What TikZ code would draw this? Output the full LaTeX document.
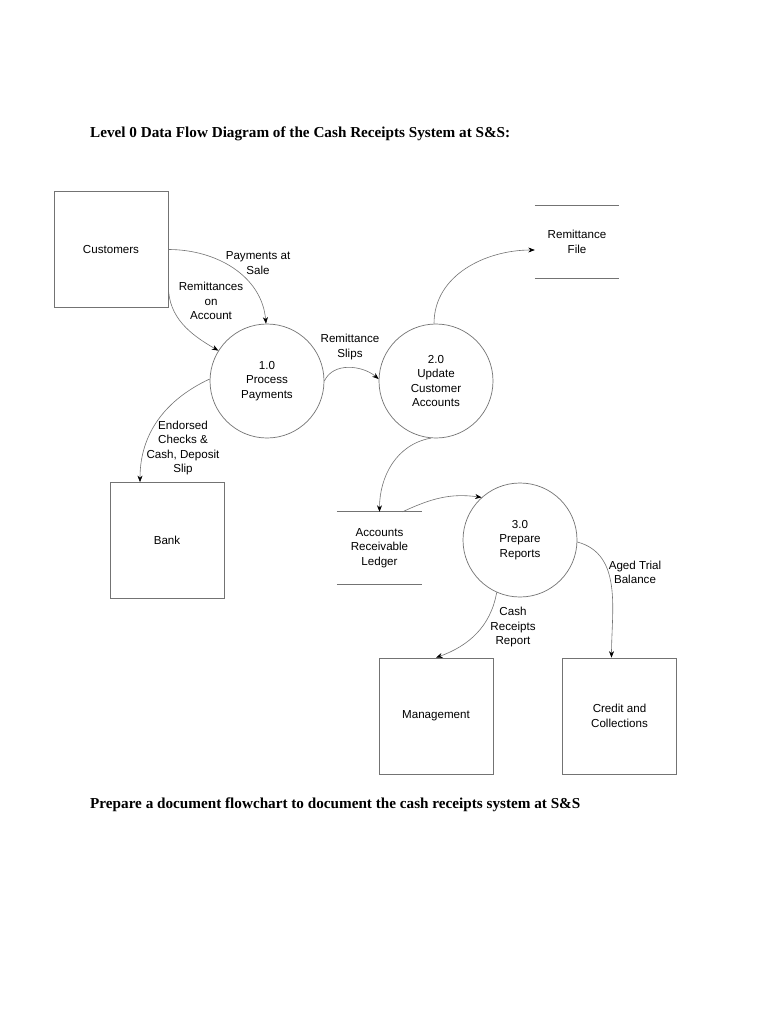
\documentclass[tikz,border=0pt]{standalone}
\usepackage{fontspec}
\setmainfont{Liberation Serif}
\newfontfamily\lsans{Liberation Sans}
\usetikzlibrary{arrows.meta}
\begin{document}
\begin{tikzpicture}[x=1pt,y=-1pt,
  lbl/.style={font=\lsans\fontsize{11.6}{14.5}\selectfont, align=center, inner sep=0pt},
  entity/.style={lbl, draw=black!55, line width=0.7pt, minimum width=114pt, minimum height=116pt},
  proc/.style={lbl, draw=black!55, line width=0.7pt, circle, minimum size=114pt},
  store/.style={lbl, minimum height=72pt},
  storeline/.style={draw=black!55, line width=0.7pt},
  flow/.style={draw=black!55, line width=0.6pt, -{Stealth[length=6.5pt,width=5pt,black]}},
  ttl/.style={font=\bfseries\fontsize{15.2}{18}\selectfont, anchor=base west, inner sep=0pt}]
\useasboundingbox[fill=white] (0,0) rectangle (768,1024);

\node[ttl] (title) at (90,138) {Level 0 Data Flow Diagram of the Cash Receipts System at S\&S:};
\node[ttl] (task) at (90,808) {Prepare a document flowchart to document the cash receipts system at S\&S};

% external entities
\node[entity] (cust) at (111,249.5) {Customers};
\node[entity] (bank) at (167,540.5) {Bank};
\node[entity] (mgmt) at (436,716) {Management};
\node[entity] (credit) at (619.5,716) {Credit and\\Collections};

% processes
\node[proc] (p1) at (267,381) {1.0\\Process\\Payments};
\node[proc] (p2) at (436,381) {2.0\\Update\\Customer\\Accounts};
\node[proc] (p3) at (520,540) {3.0\\Prepare\\Reports};

% data stores
\node[store, minimum width=84pt] (rfile) at (577,242) {Remittance\\File};
\draw[storeline] (rfile.north west) -- (rfile.north east);
\draw[storeline] (rfile.south west) -- (rfile.south east);
\node[store, minimum width=85pt] (arl) at (379.5,548) {Accounts\\Receivable\\Ledger};
\draw[storeline] (arl.north west) -- (arl.north east);
\draw[storeline] (arl.south west) -- (arl.south east);

% flows
\draw[flow] (cust.east) to[out=0,in=95] (p1.91);
\draw[flow] ([yshift=22pt]cust.south east) to[out=-90,in=150] (p1.148);
\draw[flow] (p1.0) to[out=65,in=140] (p2.178);
\draw[flow] (p2.92) to[out=90,in=180] ([yshift=-8pt]rfile.west);
\draw[flow] (p2.265) to[out=190,in=90] (arl.north);
\draw[flow] ([xshift=23pt]arl.north) to[out=25,in=172] (p3.132);
\draw[flow] (p3.246) to[out=-100,in=20] (mgmt.north);
\draw[flow] (p3.-2) to[out=-15,in=90] ([xshift=-8pt]credit.north);
\draw[flow] (p1.178) to[out=205,in=90] ([xshift=-27pt]bank.north);

% flow labels
\node[lbl] (lpay) at (258,263) {Payments at\\Sale};
\node[lbl] (lrem) at (211,301) {Remittances\\on\\Account};
\node[lbl] (lslip) at (350,347) {Remittance\\Slips};
\node[lbl] (lend) at (183,448) {Endorsed\\Checks \&\\Cash, Deposit\\Slip};
\node[lbl] (lcash) at (513,627) {Cash\\Receipts\\Report};
\node[lbl] (laged) at (635,572.5) {Aged Trial\\Balance};
\end{tikzpicture}
\end{document}
